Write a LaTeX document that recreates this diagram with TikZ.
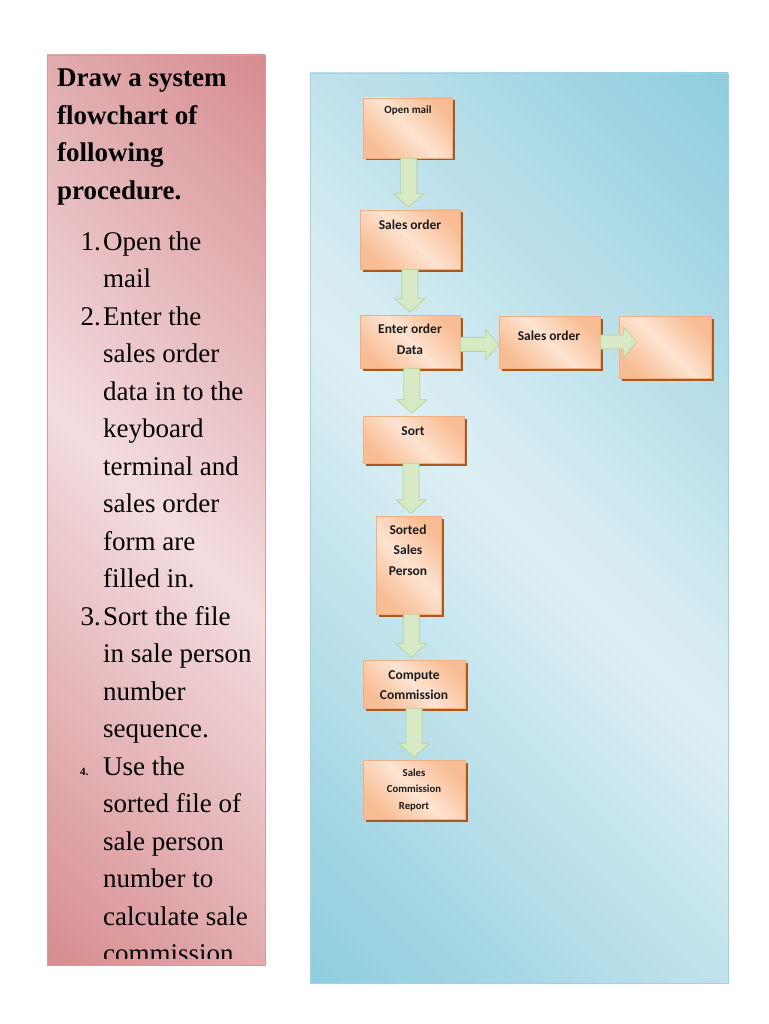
\documentclass[tikz,border=0pt]{standalone}
\usepackage{fontspec}
\setmainfont{Liberation Serif}
\newfontfamily\boxfont{Carlito}
\usetikzlibrary{calc,shadows}
\definecolor{pinkdark}{HTML}{D68C8E}
\definecolor{pinklight}{HTML}{F3DCDF}
\definecolor{pinkline}{HTML}{D9999B}
\definecolor{bluedark}{HTML}{8ECDDE}
\definecolor{bluelight}{HTML}{DEEFF4}
\definecolor{blueline}{HTML}{9FD3E1}
\definecolor{boxA}{HTML}{F8BD94}
\definecolor{boxB}{HTML}{FDE3D1}
\definecolor{boxline}{HTML}{F3AE80}
\definecolor{boxshadow}{HTML}{A85A1E}
\definecolor{arrfill}{HTML}{D8EAC5}
\definecolor{arrline}{HTML}{B5D597}
\definecolor{txt}{HTML}{1C1C1C}
\pgfdeclareverticalshading{pinkdiag}{100bp}{color(0bp)=(pinkdark); color(32bp)=(pinkdark); color(50bp)=(pinklight); color(68bp)=(pinkdark); color(100bp)=(pinkdark)}
\tikzset{
  fcbox/.style={draw=boxline, line width=0.6pt, top color=boxA, bottom color=boxA, middle color=boxB, shading angle=-45,
    drop shadow={shadow xshift=2.5pt, shadow yshift=-2.5pt, fill=boxshadow, opacity=1}, inner sep=0pt},
  boxtxt/.style={text=txt, font=\boxfont\bfseries\fontsize{13.5}{20.5}\selectfont, align=center, inner sep=0pt},
  smalltxt/.style={text=txt, font=\boxfont\bfseries\fontsize{10.7}{16.5}\selectfont, align=center, inner sep=0pt},
  blockarrow/.style={fill=arrfill, draw=arrline, line width=0.7pt, line join=miter},
  headline/.style={anchor=base west, text=black, font=\bfseries\fontsize{27}{32}\selectfont, inner sep=0pt},
  listline/.style={anchor=base west, text=black, font=\fontsize{27}{32}\selectfont, inner sep=0pt},
  listnum/.style={anchor=base east, text=black, font=\fontsize{27}{32}\selectfont, inner sep=0pt}
}
\newcommand\darr[2]{%
  \path[blockarrow] let \p1=(#1.south), \p2=(#2.north), \n1={(\x1+\x2)/2} in
    (\n1-8pt,\y1) -- (\n1+8pt,\y1) -- (\n1+8pt,\y2+16pt) -- (\n1+15pt,\y2+16pt) -- (\n1,\y2+2.5pt)
    -- (\n1-15pt,\y2+16pt) -- (\n1-8pt,\y2+16pt) -- cycle;}
\newcommand\rarr[2]{%
  \path[blockarrow] let \p1=#1, \p2=#2 in
    (\x1,\y1+7pt) -- (\x2-13pt,\y1+7pt) -- (\x2-13pt,\y1+15pt) -- (\x2,\y1) -- (\x2-13pt,\y1-15pt)
    -- (\x2-13pt,\y1-7pt) -- (\x1,\y1-7pt) -- cycle;}
\begin{document}
\begin{tikzpicture}[x=1pt,y=-1pt]
\useasboundingbox[fill=white] (0,0) rectangle (768,1024);
% ---------- left panel ----------
\begin{scope}
  \clip (47,55) rectangle (265,965);
  \shade[shading=pinkdiag, shading angle=-45]
    (156-560,510-560) rectangle (156+560,510+560);
\end{scope}
\draw[pinkline, line width=0.8pt] (47,55) rectangle (265,965);
\begin{scope}
  \clip (47,55) rectangle (265,958);
  \node[headline] (h1) at (57,87) {Draw a system};
  \node[headline] (h2) at (57,125) {flowchart of};
  \node[headline] (h3) at (57,162) {following};
  \node[headline] (h4) at (57,200) {procedure.};
  \node[listnum] (n1) at (101,250) {1.};
  \node[listnum] (n2) at (101,325) {2.};
  \node[listnum] (n3) at (101,625) {3.};
  \node[anchor=base west, inner sep=0pt, font=\bfseries\fontsize{11}{13}\selectfont] (n4) at (80,775) {4.};
  \foreach \yy/\tt [count=\i] in {250/Open the, 287.5/mail, 325/Enter the, 362.5/sales order,
      400/data in to the, 437.5/keyboard, 475/terminal and, 512.5/sales order, 550/form are,
      587.5/filled in., 625/Sort the file, 662.5/in sale person, 700/number, 737.5/sequence.,
      775/Use the, 812.5/sorted file of, 850/sale person, 887.5/number to, 925/calculate sale,
      962.5/commission}
    \node[listline] (l\i) at (103,\yy) {\tt};
\end{scope}
% ---------- right panel ----------
\begin{scope}
  \clip (310,73) rectangle (728,983);
  \shade[top color=bluedark, bottom color=bluedark, middle color=bluelight, shading angle=-45]
    (519-470,528-470) rectangle (519+470,528+470);
\end{scope}
\draw[blueline, line width=0.8pt] (310,73) rectangle (728,983);
% boxes
\node[fcbox, minimum width=89pt, minimum height=60pt] (b1) at (407.5,128) {};
\node[fcbox, minimum width=100pt, minimum height=59pt] (b2) at (410,239.5) {};
\node[fcbox, minimum width=100pt, minimum height=53pt] (b3) at (410,341.5) {};
\node[fcbox, minimum width=101pt, minimum height=52pt] (b4) at (549.5,342) {};
\node[fcbox, minimum width=92pt, minimum height=62pt] (b5) at (665,347) {};
\node[fcbox, minimum width=101pt, minimum height=47pt] (b6) at (413.5,439.5) {};
\node[fcbox, minimum width=65pt, minimum height=98pt] (b7) at (408.5,565) {};
\node[fcbox, minimum width=102pt, minimum height=48pt] (b8) at (414,684) {};
\node[fcbox, minimum width=102pt, minimum height=59pt] (b9) at (414,789.5) {};
% box texts
\node[smalltxt, font=\boxfont\bfseries\fontsize{11}{16.5}\selectfont] (t1) at (408,111) {Open mail};
\node[boxtxt] (t2) at (410,225) {Sales order};
\node[boxtxt] (t3) at (410,339.5) {Enter order\\Data};
\node[boxtxt] (t4) at (549,336) {Sales order};
\node[boxtxt] (t6) at (413,431) {Sort};
\node[boxtxt] (t7) at (408,550) {Sorted\\Sales\\Person};
\node[boxtxt] (t8) at (414,685) {Compute\\Commission};
\node[smalltxt] (t9) at (414,790) {Sales\\Commission\\Report};
% arrows
\darr{b1}{b2}
\darr{b2}{b3}
\darr{b3}{b6}
\darr{b6}{b7}
\darr{b7}{b8}
\darr{b8}{b9}
\rarr{($(b3.east)+(0,3)$)}{(b4.west)}
\rarr{(b4.east)}{($(b5.west)+(18,0)$)}
\end{tikzpicture}
\end{document}
